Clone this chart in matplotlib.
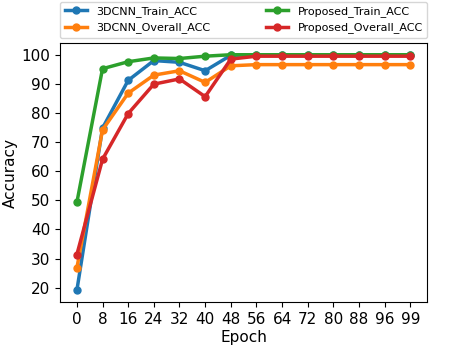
import matplotlib
matplotlib.use("Agg")
import matplotlib.pyplot as plt
import numpy as np

epochs = ["0", "8", "16", "24", "32", "40", "48", "56", "64", "72", "80", "88", "96", "99"]
cnn_train = [19.1, 74.8, 91.2, 98.0, 97.4, 94.5, 99.8, 100, 100, 100, 100, 100, 100, 100]
cnn_overall = [26.8, 74.2, 86.8, 93.0, 94.5, 90.5, 96.2, 96.6, 96.6, 96.6, 96.6, 96.6, 96.6, 96.6]
prop_train = [49.3, 95.2, 97.6, 98.9, 98.7, 99.5, 100, 100, 100, 100, 100, 100, 100, 100]
prop_overall = [31.4, 64.1, 79.8, 89.9, 91.7, 85.6, 98.5, 99.5, 99.5, 99.5, 99.5, 99.5, 99.5, 99.5]

x = np.arange(len(epochs))
fig = plt.figure(figsize=(4.74, 3.55), dpi=100)
ax = fig.add_axes([0.127, 0.149, 0.774, 0.730])

ax.plot(x, cnn_train, marker='o', lw=2.5, markersize=5, label="3DCNN_Train_ACC")
ax.plot(x, cnn_overall, marker='o', lw=2.5, markersize=5, label="3DCNN_Overall_ACC")
ax.plot(x, prop_train, marker='o', lw=2.5, markersize=5, label="Proposed_Train_ACC")
ax.plot(x, prop_overall, marker='o', lw=2.5, markersize=5, label="Proposed_Overall_ACC")

ax.set_xticks(x)
ax.set_xticklabels(epochs)
ax.set_yticks(np.arange(20, 101, 10))
ax.tick_params(labelsize=11)
ax.set_xlabel("Epoch", fontsize=11, labelpad=2)
ax.set_ylabel("Accuracy", fontsize=11, labelpad=3)
ax.legend(bbox_to_anchor=(0, 1.02, 1, 0.1), loc="lower left", mode="expand",
          ncol=2, borderaxespad=0, fontsize=8)

fig.savefig("out.png", dpi=100)
